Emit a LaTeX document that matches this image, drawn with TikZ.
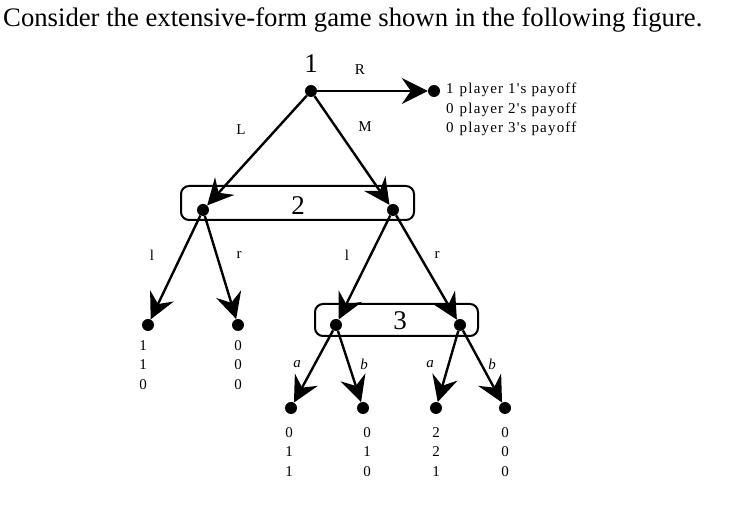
\documentclass[tikz,border=0pt]{standalone}
\usepackage{fontspec}
\setmainfont{Liberation Serif}
\newfontfamily\payfont[LetterSpace=8]{Liberation Serif}
\usetikzlibrary{arrows.meta}
\begin{document}
\begin{tikzpicture}[x=1pt,y=-1pt,
  dot/.style={circle,fill=black,inner sep=0pt,minimum size=12pt},
  mv/.style={line width=2.4pt,-{Stealth[length=26pt,width=26pt,inset=9pt]},shorten >=0pt},
  lab/.style={font=\fontsize{15}{17}\selectfont,inner sep=0pt},
  big/.style={font=\fontsize{27}{30}\selectfont,inner sep=0pt},
  pay/.style={font=\fontsize{15}{19.5}\selectfont,align=center,anchor=north,inner sep=0pt},
  info/.style={draw,line width=2pt,rounded corners=8pt}]
\useasboundingbox (0,0) rectangle (732,510);
\node[anchor=west,inner sep=0pt,font=\fontsize{26.7}{30}\selectfont] (title) at (3,20) {Consider the extensive-form game shown in the following figure.};
\draw[info] (181,186) rectangle (414,220);
\draw[info] (315,304) rectangle (478,336);
\node[dot] (r) at (311,91) {};
\node[dot] (e) at (434,91) {};
\node[dot] (p2a) at (203,210) {};
\node[dot] (p2b) at (393,210) {};
\node[dot] (t1) at (148,325) {};
\node[dot] (t2) at (238,325) {};
\node[dot] (p3a) at (336,325) {};
\node[dot] (p3b) at (460,325) {};
\node[dot] (b1) at (291,408) {};
\node[dot] (b2) at (363,408) {};
\node[dot] (b3) at (436,408) {};
\node[dot] (b4) at (505,408) {};
\draw[mv] (r) -- (e);
\draw[mv] (r) -- (p2a);
\draw[mv] (r) -- (p2b);
\draw[mv] (p2a) -- (t1);
\draw[mv] (p2a) -- (t2);
\draw[mv] (p2b) -- (p3a);
\draw[mv] (p2b) -- (p3b);
\draw[mv] (p3a) -- (b1);
\draw[mv] (p3a) -- (b2);
\draw[mv] (p3b) -- (b3);
\draw[mv] (p3b) -- (b4);
\node[big] (n1) at (311,64) {1};
\node[big] (n2) at (298,206) {2};
\node[big] (n3) at (400,321) {3};
\node[lab] (lR) at (360,70) {R};
\node[lab] (lL) at (241,130) {L};
\node[lab] (lM) at (365,127) {M};
\node[lab] (ll1) at (152,255) {l};
\node[lab] (lr1) at (239,255) {r};
\node[lab] (ll2) at (347,255) {l};
\node[lab] (lr2) at (437,255) {r};
\node[lab] (la1) at (297,364) {\itshape a};
\node[lab] (lb1) at (364,364) {\itshape b};
\node[lab] (la2) at (430,364) {\itshape a};
\node[lab] (lb2) at (492,364) {\itshape b};
\node[pay,anchor=north west,align=left] (pe) at (446,83) {\payfont 1\hspace{6pt}player 1's payoff\\\payfont 0\hspace{6pt}player 2's payoff\\\payfont 0\hspace{6pt}player 3's payoff};
\node[pay] (pt1) at (143,340) {1\\1\\0};
\node[pay] (pt2) at (238,340) {0\\0\\0};
\node[pay] (pb1) at (289,427) {0\\1\\1};
\node[pay] (pb2) at (367,427) {0\\1\\0};
\node[pay] (pb3) at (436,427) {2\\2\\1};
\node[pay] (pb4) at (505,427) {0\\0\\0};
\end{tikzpicture}
\end{document}
